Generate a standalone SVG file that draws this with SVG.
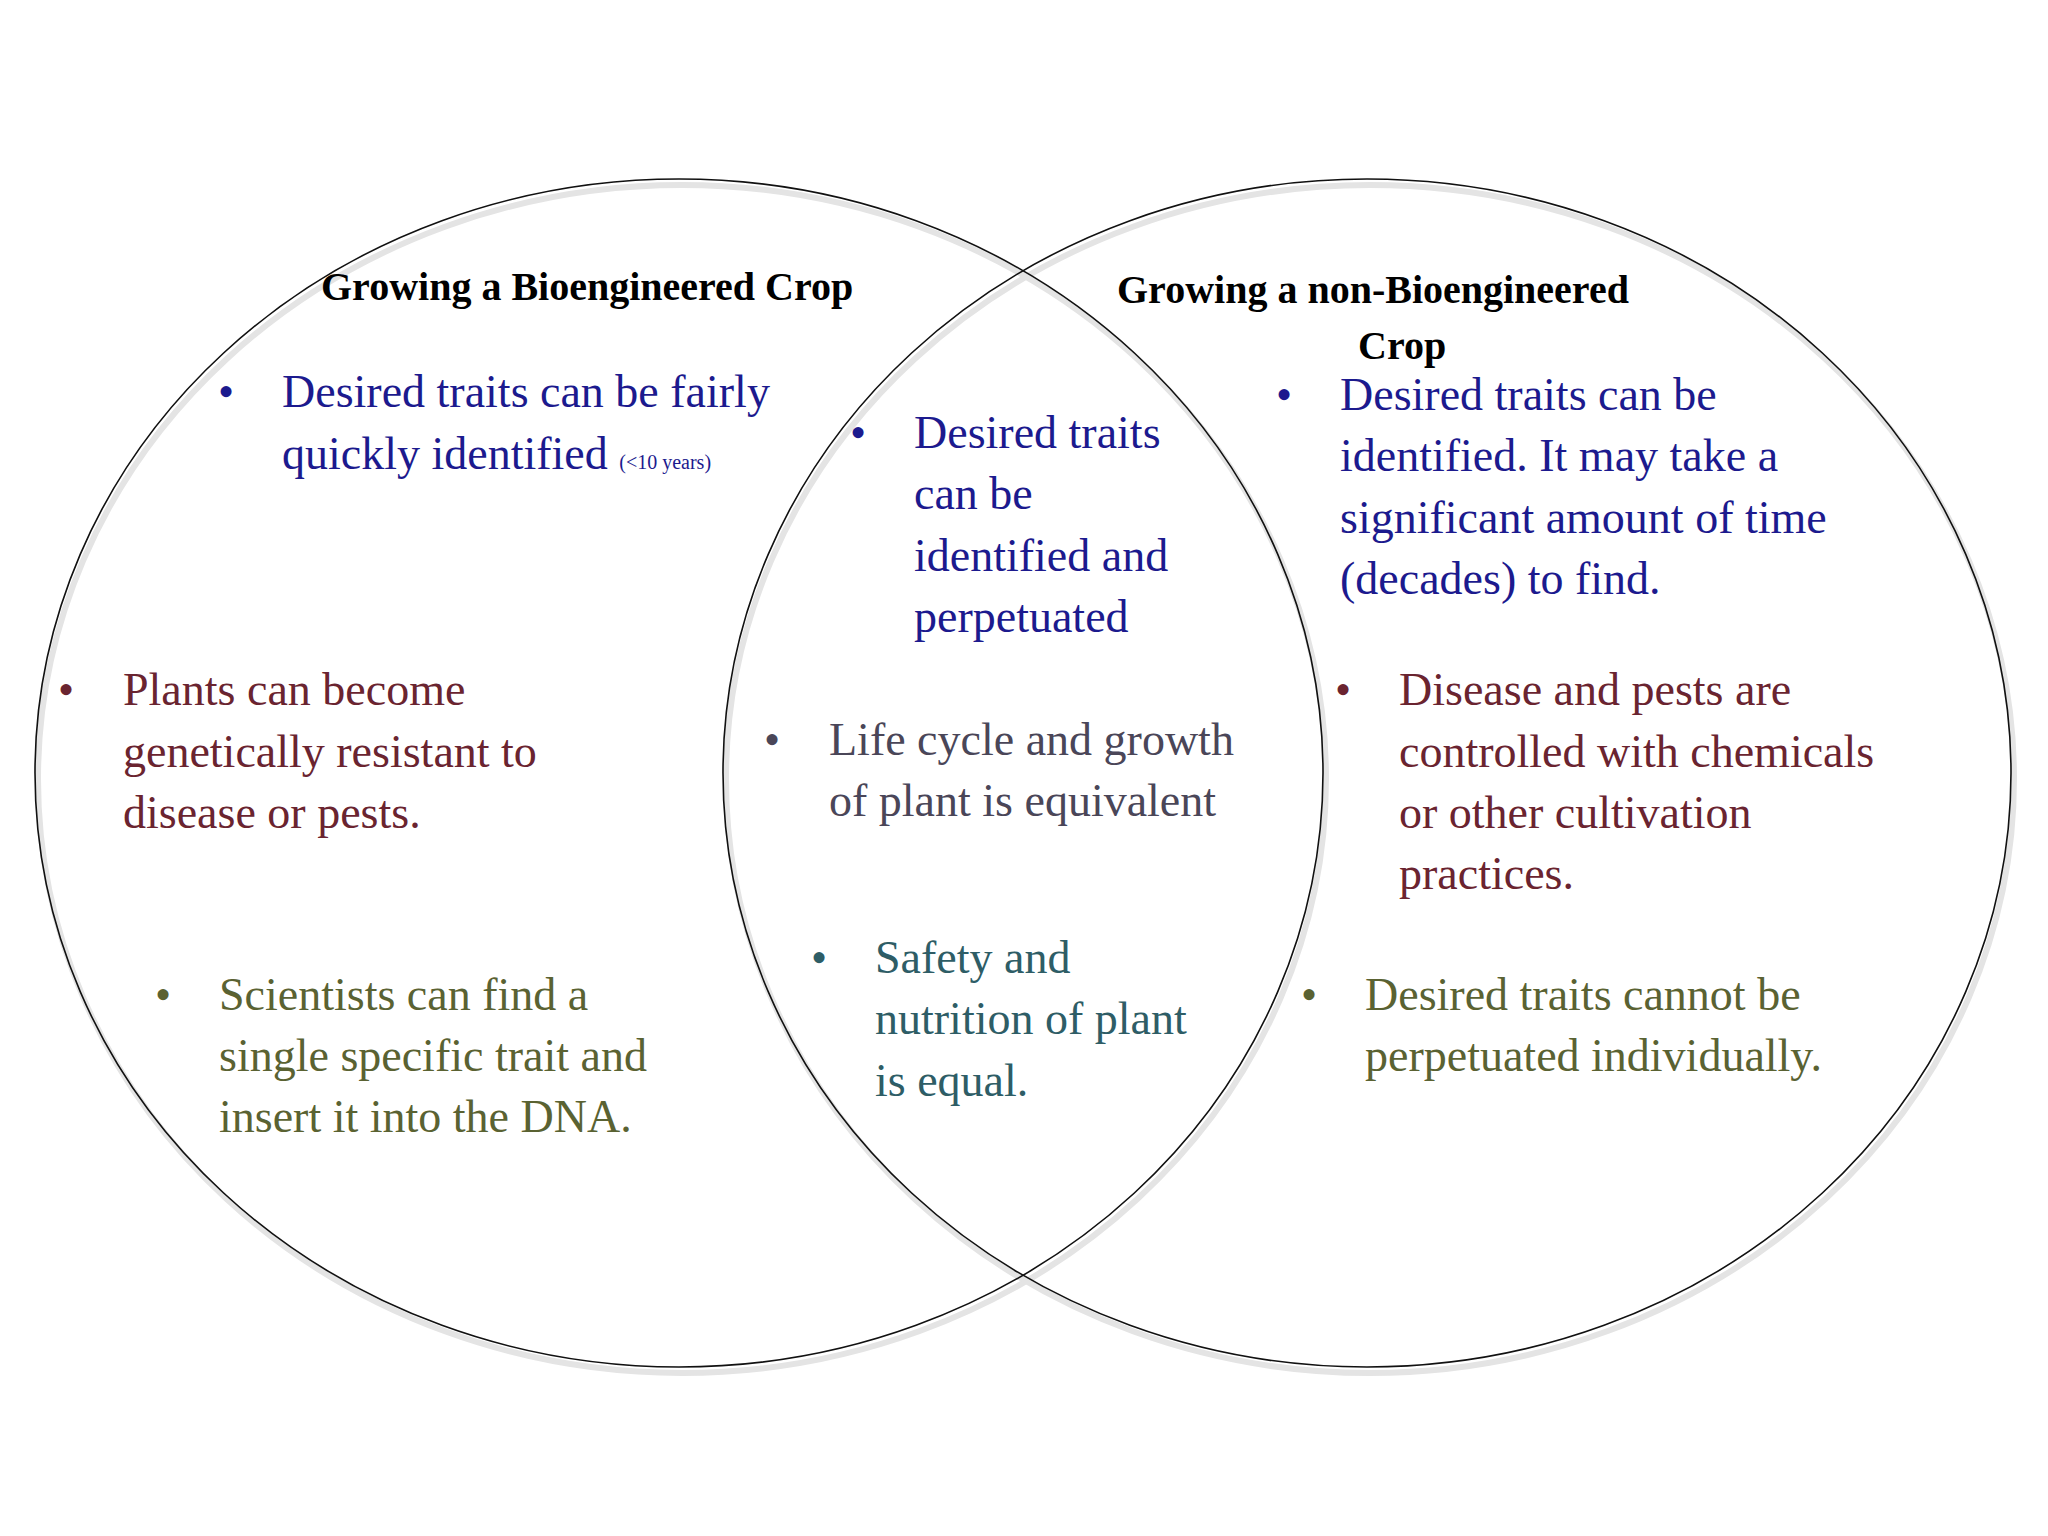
<svg xmlns="http://www.w3.org/2000/svg" width="2048" height="1536" viewBox="0 0 2048 1536">
<style>
text{font-family:"Liberation Serif","Times New Roman",serif;font-size:46px}
.t{font-weight:bold;font-size:40px;fill:#000}
.b{fill:#1c1a8e}.m{fill:#6a2430}.g{fill:#4a4658}.o{fill:#5a6232}.c{fill:#2e5d66}
.sh{fill:none;stroke:#e4e4e4;stroke-width:6}
.e{fill:none;stroke:#111;stroke-width:1.6}
</style>
<rect width="2048" height="1536" fill="#fff"/>
<g id="circles">
<ellipse class="sh" cx="682" cy="779" rx="644" ry="594"/>
<ellipse class="sh" cx="1370" cy="779" rx="644" ry="594"/>
<ellipse id="left" class="e" cx="679" cy="773" rx="644" ry="594"/>
<ellipse id="right" class="e" cx="1367" cy="773" rx="644" ry="594"/>
</g>
<g id="titles">
<text class="t" x="321" y="300">Growing a Bioengineered Crop</text>
<text class="t" x="1117" y="303">Growing a non-Bioengineered</text>
<text class="t" x="1358" y="359">Crop</text>
</g>
<g id="left-items">
<text class="b" x="218" y="407">•</text>
<text class="b" x="282" y="407">Desired traits can be fairly</text>
<text class="b" x="282" y="469">quickly identified <tspan font-size="20">(&lt;10 years)</tspan></text>
<text class="m" x="58" y="705">•</text>
<text class="m" x="123" y="705">Plants can become</text>
<text class="m" x="123" y="767">genetically resistant to</text>
<text class="m" x="123" y="828">disease or pests.</text>
<text class="o" x="155" y="1010">•</text>
<text class="o" x="219" y="1010">Scientists can find a</text>
<text class="o" x="219" y="1071">single specific trait and</text>
<text class="o" x="219" y="1132">insert it into the DNA.</text>
</g>
<g id="middle-items">
<text class="b" x="850" y="448">•</text>
<text class="b" x="914" y="448">Desired traits</text>
<text class="b" x="914" y="509">can be</text>
<text class="b" x="914" y="571">identified and</text>
<text class="b" x="914" y="632">perpetuated</text>
<text class="g" x="764" y="755">•</text>
<text class="g" x="829" y="755">Life cycle and growth</text>
<text class="g" x="829" y="816">of plant is equivalent</text>
<text class="c" x="811" y="973">•</text>
<text class="c" x="875" y="973">Safety and</text>
<text class="c" x="875" y="1034">nutrition of plant</text>
<text class="c" x="875" y="1096">is equal.</text>
</g>
<g id="right-items">
<text class="b" x="1276" y="410">•</text>
<text class="b" x="1340" y="410">Desired traits can be</text>
<text class="b" x="1340" y="471">identified. It may take a</text>
<text class="b" x="1340" y="533">significant amount of time</text>
<text class="b" x="1340" y="594">(decades) to find.</text>
<text class="m" x="1335" y="705">•</text>
<text class="m" x="1399" y="705">Disease and pests are</text>
<text class="m" x="1399" y="767">controlled with chemicals</text>
<text class="m" x="1399" y="828">or other cultivation</text>
<text class="m" x="1399" y="889">practices.</text>
<text class="o" x="1301" y="1010">•</text>
<text class="o" x="1365" y="1010">Desired traits cannot be</text>
<text class="o" x="1365" y="1071">perpetuated individually.</text>
</g>
</svg>
